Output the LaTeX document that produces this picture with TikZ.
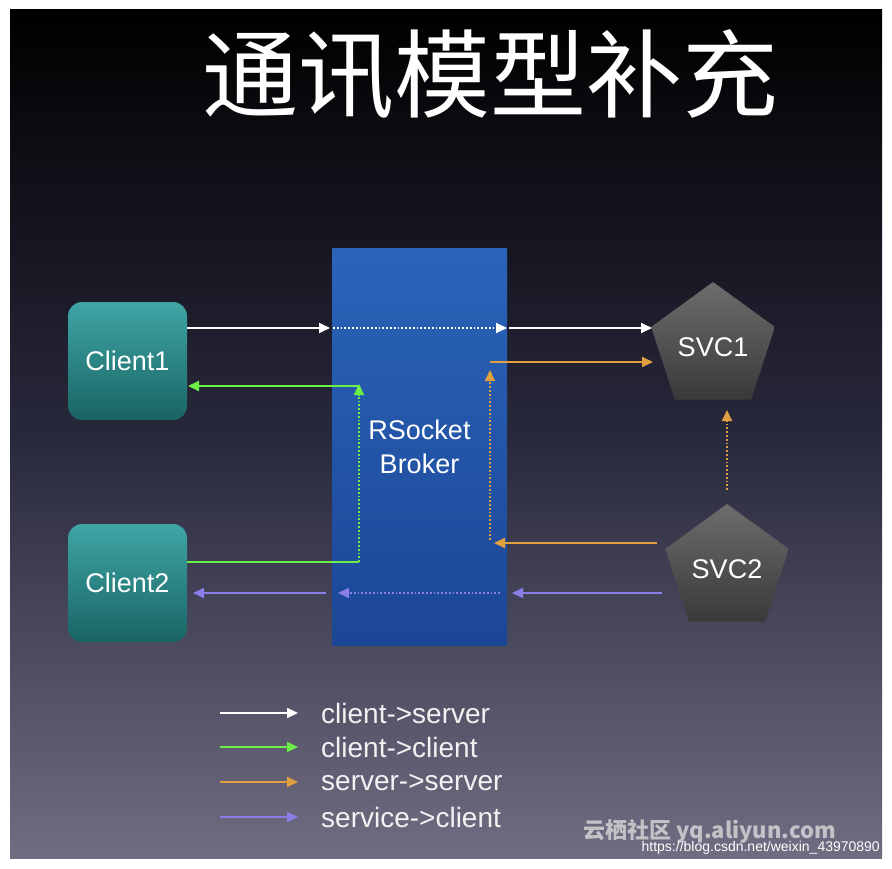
\documentclass[tikz,border=0pt]{standalone}
\usepackage{fontspec}
\setmainfont{Liberation Sans}
\newfontfamily\cjk{Noto Sans CJK SC}
\usetikzlibrary{shapes.geometric,arrows.meta}
\definecolor{lg}{HTML}{6CF048}
\definecolor{lo}{HTML}{E0A040}
\definecolor{lp}{HTML}{8A7FE8}
\begin{document}
\begin{tikzpicture}[x=1pt,y=-1pt,
  tip/.style={-{Triangle[length=11pt,width=10pt]}},
  ar/.style={line width=1.8pt,tip},
  dt/.style={line width=1.8pt,dotted},
  lbl/.style={text=white!90!gray,font=\fontsize{28}{32}\selectfont,anchor=west,inner sep=0},
  cli/.style={rounded corners=14pt,minimum width=119pt,minimum height=118pt,top color={rgb,255:red,64;green,165;blue,165},bottom color={rgb,255:red,25;green,100;blue,100},draw=none,text=white,font=\fontsize{27}{30}\selectfont},
  svc/.style={regular polygon,regular polygon sides=5,minimum size=130pt,inner sep=0,top color=gray!85!black,bottom color=gray!45!black,draw=none,text=white,font=\fontsize{27}{30}\selectfont}]
\useasboundingbox (0,0) rectangle (892,869);
\fill[white] (0,0) rectangle (892,869);
\shade[top color=black,bottom color={rgb,255:red,112;green,108;blue,130},middle color={rgb,255:red,40;green,40;blue,60}] (10,10) rectangle (882,858);
\node[text=white,font=\cjk\fontsize{96}{100}\selectfont] (title) at (490,75) {通讯模型补充};
\node[minimum width=175pt,minimum height=396pt,inner sep=0,top color={rgb,255:red,42;green,100;blue,185},bottom color={rgb,255:red,28;green,70;blue,150},text=white,align=center,font=\fontsize{27}{34}\selectfont] (broker) at (419.5,447) {RSocket\\Broker};
\node[cli] (c1) at (127.5,361) {Client1};
\node[cli] (c2) at (127.5,583) {Client2};
\node[svc] (s1) at (713,347) {SVC1};
\node[svc] (s2) at (727,569) {SVC2};
% white
\coordinate (w1) at (187,328); \coordinate (w2) at (330,328);
\coordinate (w3) at (333,328); \coordinate (w4) at (507,328);
\coordinate (w5) at (509,328); \coordinate (w6) at (652,328);
\draw[ar,white] (w1) -- (w2);
\draw[dt,white,tip] (w3) -- (w4);
\draw[ar,white] (w5) -- (w6);
% orange
\coordinate (o1) at (490,362); \coordinate (o2) at (653,362);
\draw[ar,lo] (o1) -- (o2);
\coordinate (o3) at (490,540); \coordinate (o4) at (490,370);
\draw[dt,lo,tip] (o3) -- (o4);
\coordinate (o5) at (657,543); \coordinate (o6) at (494,543);
\draw[ar,lo] (o5) -- (o6);
\coordinate (o7) at (727,490); \coordinate (o8) at (727,410);
\draw[dt,lo,tip] (o7) -- (o8);
% green
\coordinate (g1) at (187,562); \coordinate (g2) at (359,562);
\coordinate (g3) at (359,384); \coordinate (g4) at (188,386);
\draw[line width=1.8pt,lg] (g1) -- (g2);
\draw[dt,lg,tip] (g2) -- (g3);
\draw[ar,lg] (360,386) -- (g4);
% purple
\coordinate (p1) at (662,593); \coordinate (p2) at (512,593);
\coordinate (p3) at (500,593); \coordinate (p4) at (338,593);
\coordinate (p5) at (326,593); \coordinate (p6) at (193,593);
\draw[ar,lp] (p1) -- (p2);
\draw[dt,lp,tip] (p3) -- (p4);
\draw[ar,lp] (p5) -- (p6);
% legend
\foreach \y/\c/\t [count=\i] in {713/white/client->server,747/lg/client->client,782/lo/server->server,817/lp/service->client}{
  \coordinate (la\i) at (220,\y); \coordinate (lb\i) at (298,\y);
  \draw[ar,\c] (la\i) -- (lb\i);
  \node[lbl] (lt\i) at (321,\y) {\t};
}
\node[text=white!70!gray,opacity=0.8,font=\cjk\fontsize{22}{24}\selectfont\bfseries,anchor=west] (wm1) at (580,831) {云栖社区 yq.aliyun.com};
\node[text=white,font=\fontsize{14}{16}\selectfont,anchor=east,inner sep=0] (wm2) at (880,848) {https://blog.csdn.net/weixin\_43970890};
\end{tikzpicture}
\end{document}
